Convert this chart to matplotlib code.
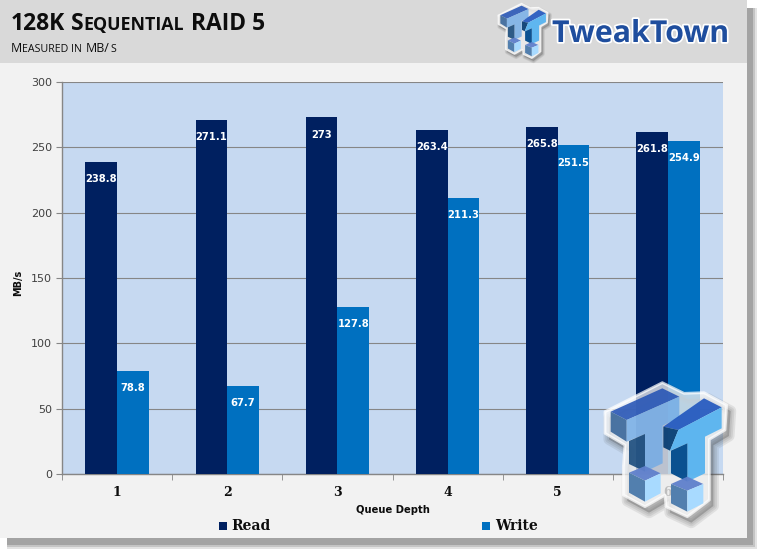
import matplotlib
matplotlib.use("Agg")
import matplotlib.pyplot as plt
import matplotlib.patheffects as pe
from matplotlib.patches import Polygon, Rectangle

queue_depths = [1, 2, 3, 4, 5, 6]
read_values = [238.8, 271.1, 273, 263.4, 265.8, 261.8]
write_values = [78.8, 67.7, 127.8, 211.3, 251.5, 254.9]
y_ticks = [0, 50, 100, 150, 200, 250, 300]

READ = "#002060"
WRITE = "#0070C0"
AXIS = "#868686"
W, H = 760, 551

fig = plt.figure(figsize=(W / 100, H / 100), dpi=100, facecolor="white")

# Page furniture, laid out in pixel units
bg = fig.add_axes([0, 0, 1, 1], zorder=0)
bg.set_xlim(0, W)
bg.set_ylim(H, 0)
bg.axis("off")
for grow, shade in [(4, "#e2e2e2"), (2, "#c4c4c4"), (0, "#a3a3a3")]:
    bg.add_patch(Rectangle((7, 8), 746 + grow, 537 + grow, fc=shade, ec="none"))
bg.add_patch(Rectangle((0, 0), 747, 538, fc="#F2F2F2", ec="none"))
bg.add_patch(Rectangle((0, 0), 747, 63, fc="#D9D9D9", ec="none"))


def run(pieces, y):
    for x, text, size, weight in pieces:
        bg.text(x, y, text, fontsize=size, fontweight=weight, family="Open Sans",
                color="#0d0d0d", va="baseline", ha="left")


run([(11, "128K", 16.5, "bold"), (71, "S", 16.5, "bold"),
     (83, "EQUENTIAL", 12.8, "bold"), (191, "RAID 5", 16.5, "bold")], 30)
run([(11, "M", 9, "normal"), (22, "EASURED IN", 7.7, "normal"),
     (86, "MB/", 9, "normal"), (110, "S", 7.6, "normal")], 52)

# Bar chart
ax = fig.add_axes([62 / W, (H - 474) / H, 661 / W, 392 / H], zorder=1)
ax.set_facecolor("#C6D9F1")
bar_w = 0.288
read_x = [q - bar_w / 2 for q in queue_depths]
write_x = [q + bar_w / 2 for q in queue_depths]
read_bars = ax.bar(read_x, read_values, bar_w, color=READ, zorder=3, label="Read")
write_bars = ax.bar(write_x, write_values, bar_w, color=WRITE, zorder=3, label="Write")

ax.set_xlim(0.5, 6.5)
ax.set_ylim(0, 300)
ax.set_yticks(y_ticks)
ax.set_xticks(queue_depths)
ax.set_xticks([q + 0.5 for q in [0] + queue_depths], minor=True)
ax.yaxis.grid(True, color=AXIS, lw=0.8, zorder=1)
ax.set_axisbelow(True)
for side in ("top", "right"):
    ax.spines[side].set_visible(False)
for side in ("left", "bottom"):
    ax.spines[side].set_color(AXIS)
    ax.spines[side].set_linewidth(1)
ax.tick_params(axis="y", length=4, color=AXIS, labelsize=8, labelcolor="#404040", pad=3)
ax.tick_params(axis="x", which="major", length=0, pad=9, labelsize=9, labelcolor="#0d0d0d")
ax.tick_params(axis="x", which="minor", length=4, color=AXIS)
for lab in ax.get_xticklabels():
    lab.set_family("DejaVu Serif")
    lab.set_fontweight("bold")
for lab in ax.get_yticklabels():
    lab.set_family("DejaVu Sans")

for bars, values in [(read_bars, read_values), (write_bars, write_values)]:
    for bar, v in zip(bars, values):
        ax.annotate(f"{v:g}", (bar.get_x() + bar.get_width() / 2, v),
                    xytext=(0, -12.5), textcoords="offset points", ha="center", va="center",
                    color="white", fontsize=7.2, fontweight="bold", family="DejaVu Sans", zorder=4)

# Overlay: axis titles, legend and branding
top = fig.add_axes([0, 0, 1, 1], zorder=2)
top.set_xlim(0, W)
top.set_ylim(H, 0)
top.axis("off")
top.patch.set_alpha(0)
top.text(18, 283, "MB/s", rotation=90, ha="center", va="center", fontsize=7,
         fontweight="bold", family="DejaVu Sans", color="#0d0d0d")
top.text(393, 510, "Queue Depth", ha="center", va="center", fontsize=7.2,
         fontweight="bold", family="DejaVu Sans", color="#0d0d0d")
for mx, tx, name, col in [(219, 231, "Read", READ), (482, 495, "Write", WRITE)]:
    top.add_patch(Rectangle((mx, 522), 8, 8, fc=col, ec="none"))
    top.text(tx, 526, name, ha="left", va="center", fontsize=10, fontweight="bold",
             family="DejaVu Serif", color="#0d0d0d")

# Logo geometry, in units of a 3x grid
LOGO_FACES = [
    ([(152, 155), (307, 85), (358, 110), (200, 180)], "#1F4FB4", 0.85),
    ([(152, 155), (200, 180), (200, 245), (152, 215)], "#2F5F95", 0.85),
    ([(200, 180), (358, 110), (358, 172), (308, 197), (308, 310), (255, 335), (255, 222), (200, 245)], "#6FAAE6", 0.80),
    ([(207, 243), (255, 222), (255, 335), (207, 312)], "#00386F", 0.80),
    ([(207, 338), (255, 318), (302, 340), (255, 362)], "#5F80CC", 0.95),
    ([(207, 338), (255, 362), (255, 425), (207, 398)], "#527FAE", 1),
    ([(255, 362), (302, 340), (302, 400), (255, 425)], "#A8DAFF", 1),
    ([(310, 200), (432, 115), (485, 142), (355, 210)], "#1F55BE", 0.9),
    ([(310, 200), (355, 210), (330, 272), (310, 262)], "#00386F", 0.9),
    ([(355, 210), (485, 142), (485, 205), (435, 230), (435, 340), (382, 365), (382, 250), (330, 272)], "#58B4F0", 0.95),
    ([(333, 272), (382, 250), (382, 365), (333, 340)], "#004A8C", 0.95),
    ([(333, 372), (382, 350), (430, 372), (382, 392)], "#5F80CC", 0.95),
    ([(333, 372), (382, 392), (382, 455), (333, 430)], "#527FAE", 1),
    ([(382, 392), (430, 372), (430, 430), (382, 455)], "#A8DAFF", 1),
]
LOGO_OUTLINE = [(135, 155), (307, 68), (372, 100), (432, 98), (500, 135), (495, 210),
                (448, 238), (448, 420), (382, 470), (318, 440), (315, 405), (255, 440),
                (190, 405), (190, 320), (195, 255), (135, 220)]


def logo(ox, oy, k, z):
    def map_pts(pts):
        return [(ox + x * k, oy + y * k) for x, y in pts]
    outline = map_pts(LOGO_OUTLINE)
    # Soft drop shadow built from widening translucent strokes
    for spread in (24, 16, 8):
        top.add_patch(Polygon([(x + 12 * k, y + 18 * k) for x, y in outline], fc="#404040", ec="#404040",
                              lw=spread * k, alpha=0.10, joinstyle="round", zorder=z))
    top.add_patch(Polygon(outline, fc="#FFFFFF", ec="#FFFFFF", alpha=0.72, lw=6 * k,
                          joinstyle="round", zorder=z + 1))
    for pts, col, a in LOGO_FACES:
        top.add_patch(Polygon(map_pts(pts), fc=col, ec="none", alpha=a, zorder=z + 2))


logo(560, 360, 1 / 3, 5)
logo(479.5, -6, 0.137, 10)

top.text(552, 34, "TweakTown", ha="left", va="center", fontsize=21.8, fontweight="bold",
         family="Open Sans", color="#1F4E9E", zorder=20,
         path_effects=[pe.withStroke(linewidth=2.5, foreground="white")])

fig.savefig("out.png", dpi=100, facecolor="white")
